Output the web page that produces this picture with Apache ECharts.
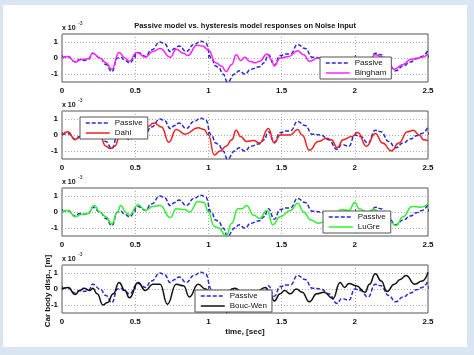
<!DOCTYPE html>
<html><head><meta charset="utf-8">
<script src="https://cdn.jsdelivr.net/npm/echarts@6/dist/echarts.min.js"></script>
<style>html,body{margin:0;padding:0;background:#d9e6f2;} #c{width:474px;height:355px;}</style>
</head><body><div id="c"></div>
<script>
// time [sec], displacement [x 1e-3 m]
const xTickLabels = ['0','0.5','1','1.5','2','2.5'];
const yTickLabels = ['-1','0','1'];
const panelSeries = ['Bingham','Dahl','LuGre','Bouc-Wen'];

const passive = [[0,0],[0.04,0.1],[0.09,-0.25],[0.12,-0.1],[0.15,-0.15],[0.18,-0.1],[0.21,0.3],[0.26,0.0],[0.30,-0.4],[0.34,-0.85],
 [0.38,0.0],[0.40,0.05],[0.43,-0.15],[0.46,-0.3],[0.52,0.35],[0.57,0.1],[0.61,0.5],[0.67,1.0],[0.70,0.9],[0.74,0.4],
 [0.77,0.6],[0.80,0.75],[0.85,0.4],[0.90,0.85],[0.95,1.05],[0.98,0.95],[1.02,0.0],[1.05,-0.5],[1.07,-0.6],[1.10,-1.0],
 [1.13,-1.5],[1.18,-1.0],[1.21,-0.8],[1.25,-1.0],[1.29,-0.7],[1.35,-0.55],[1.38,-0.3],[1.41,0.2],[1.45,-0.45],[1.49,0.15],
 [1.53,0.25],[1.56,0.25],[1.61,0.85],[1.66,0.6],[1.71,0.05],[1.77,0.0],[1.82,-0.3],[1.88,-0.9],[1.91,-0.6],[1.96,-0.7],
 [2.00,0.0],[2.04,-0.1],[2.09,-0.5],[2.14,0.3],[2.18,0.2],[2.23,-0.4],[2.28,-0.8],[2.33,-0.5],[2.38,-0.25],[2.42,-0.05],
 [2.46,0.1],[2.50,0.5]];

const bingham = [[0,0],[0.04,0.1],[0.09,-0.25],[0.13,-0.1],[0.18,-0.05],[0.21,0.3],[0.26,0.0],[0.30,-0.3],[0.34,-0.7],[0.39,0.35],
 [0.43,0.0],[0.46,-0.2],[0.51,0.35],[0.57,0.05],[0.62,0.4],[0.67,0.6],[0.74,0.05],[0.78,0.55],[0.83,0.3],[0.86,0.15],
 [0.92,0.8],[0.96,0.75],[1.00,0.5],[1.05,-0.3],[1.09,-0.5],[1.12,-0.85],[1.16,-0.4],[1.19,0.2],[1.22,-0.15],[1.25,0.05],
 [1.28,-0.2],[1.32,-0.3],[1.35,-0.2],[1.40,0.25],[1.43,-0.1],[1.45,-0.5],[1.49,0.0],[1.55,0.1],[1.61,0.45],[1.65,0.2],
 [1.69,-0.2],[1.75,0.0],[1.80,-0.2],[1.88,-0.6],[1.92,-0.4],[1.97,-0.5],[2.00,0.05],[2.04,-0.1],[2.09,-0.4],[2.14,0.2],
 [2.18,0.1],[2.22,-0.2],[2.27,-0.7],[2.33,-0.4],[2.38,-0.1],[2.43,0.0],[2.46,0.05],[2.50,0.25]];

const dahl = [[0,0],[0.04,0.2],[0.09,-0.3],[0.12,-0.15],[0.15,-0.1],[0.18,-0.05],[0.21,0.3],[0.26,-0.1],[0.30,-0.7],[0.33,-0.85],
 [0.36,-0.7],[0.40,0.1],[0.44,-0.1],[0.47,-0.2],[0.52,0.3],[0.54,0.4],[0.58,0.5],[0.63,0.75],[0.68,0.5],[0.73,-0.45],
 [0.78,0.35],[0.84,0.05],[0.93,0.45],[0.97,0.35],[1.00,0.0],[1.04,-1.25],[1.08,-1.0],[1.12,-0.7],[1.16,-0.3],[1.19,0.3],
 [1.22,-0.1],[1.26,-0.4],[1.31,-0.35],[1.35,-0.5],[1.41,0.4],[1.45,-0.5],[1.49,0.0],[1.56,0.0],[1.61,0.35],[1.64,0.0],
 [1.69,-0.95],[1.75,-0.4],[1.81,-0.2],[1.84,-0.3],[1.88,-0.8],[1.92,-0.3],[1.98,-0.1],[2.02,0.15],[2.08,-0.7],[2.14,0.1],
 [2.19,-0.5],[2.25,-1.0],[2.30,-0.5],[2.36,0.2],[2.40,0.3],[2.44,0.0],[2.47,-0.3],[2.50,-0.35]];

const lugre = [[0,0],[0.04,0.1],[0.09,-0.3],[0.13,-0.15],[0.18,-0.1],[0.22,0.4],[0.26,0.0],[0.30,-0.3],[0.34,-0.75],[0.38,0.0],
 [0.40,0.4],[0.44,-0.05],[0.46,-0.2],[0.52,0.45],[0.57,0.1],[0.62,0.35],[0.67,0.4],[0.74,-0.35],[0.78,0.2],[0.84,0.15],
 [0.87,0.0],[0.93,0.65],[0.97,0.6],[1.00,0.0],[1.04,-0.9],[1.07,-1.0],[1.12,-1.5],[1.16,-0.7],[1.20,0.2],[1.23,0.2],
 [1.26,0.4],[1.31,-0.2],[1.35,-0.4],[1.40,0.1],[1.44,-0.8],[1.49,-0.3],[1.56,0.1],[1.61,0.55],[1.65,0.0],[1.70,-0.5],
 [1.75,-0.7],[1.80,-0.6],[1.86,-0.2],[1.91,0.15],[1.96,0.1],[2.00,0.6],[2.03,0.2],[2.08,0.0],[2.13,0.15],[2.18,-0.1],
 [2.23,-0.5],[2.28,-0.85],[2.33,-0.3],[2.39,0.35],[2.45,0.3],[2.50,0.5]];

const boucwen = [[0,0],[0.04,0.1],[0.09,-0.35],[0.12,-0.1],[0.15,0.05],[0.19,-0.1],[0.21,0.05],[0.24,-0.3],[0.28,-1.0],[0.31,-0.85],
 [0.35,-0.3],[0.39,0.4],[0.43,-0.1],[0.46,-0.55],[0.52,0.4],[0.57,-0.1],[0.62,0.3],[0.67,0.3],[0.72,-0.95],[0.78,0.3],
 [0.83,0.2],[0.87,-0.5],[0.93,0.3],[0.98,0.0],[1.03,-0.5],[1.10,-0.3],[1.18,0.05],[1.25,-0.4],[1.32,-0.2],[1.39,0.1],
 [1.42,-0.2],[1.45,-0.75],[1.49,-0.3],[1.52,-0.1],[1.56,-0.3],[1.60,0.0],[1.64,-0.2],[1.69,-0.8],[1.74,-0.3],[1.79,-0.2],
 [1.85,-0.6],[1.90,0.4],[1.93,0.1],[1.96,0.35],[2.01,0.2],[2.07,-0.2],[2.10,0.3],[2.14,0.95],[2.18,0.5],[2.22,-0.15],
 [2.27,0.3],[2.31,0.6],[2.35,0.85],[2.41,0.3],[2.46,0.5],[2.50,1.05]];

const hystData = [bingham, dahl, lugre, boucwen];
const hystColors = ['#ff22ff','#ee2222','#33ee33','#111111'];

const tops = [34,111,188,265];
const H = 48, L = 62, W = 366;
const legendPos = [[320,57],[80,117],[323,211],[195,290]];
const FONT = '"Liberation Sans", Arial, sans-serif';

const grids=[], xAxes=[], yAxes=[], series=[], legends=[], graphics=[];
graphics.push({type:'rect', shape:{x:3,y:5,width:464,height:342}, style:{fill:'#fff'}, z:-10, silent:true});
graphics.push({type:'text', style:{text:'Passive model vs. hysteresis model responses on Noise Input', x:245, y:26,
  textAlign:'center', textVerticalAlign:'middle', align:'center', verticalAlign:'middle',
  font:'bold 7.5px '+FONT, fill:'#111'}});
graphics.push({type:'text', style:{text:'time, [sec]', x:245, y:332, textAlign:'center', textVerticalAlign:'middle',
  align:'center', verticalAlign:'middle', font:'bold 8px '+FONT, fill:'#111'}});
graphics.push({type:'text', x:48, y:291, rotation:Math.PI/2, style:{text:'Car body disp., [m]', x:0, y:0, textAlign:'center', textVerticalAlign:'middle',
  align:'center', verticalAlign:'middle', font:'bold 8px '+FONT, fill:'#111'}});

for (let i=0;i<4;i++){
  grids.push({left:L, top:tops[i], width:W, height:H, show:true, borderColor:'#555', borderWidth:1, backgroundColor:'#fff'});
  xAxes.push({type:'value', gridIndex:i, min:0, max:2.5, interval:0.5,
    axisLine:{show:false}, axisTick:{show:true, inside:true, length:3, lineStyle:{color:'#555'}},
    axisLabel:{margin:5, fontSize:8, fontWeight:'bold', fontFamily:FONT, color:'#111',
      formatter:v=>{const s=xTickLabels.find(t=>Math.abs(parseFloat(t)-v)<1e-6); return s||'';}},
    splitLine:{show:true, lineStyle:{color:'#aaa', type:[1,2], width:1}}});
  yAxes.push({type:'value', gridIndex:i, min:-1.5, max:1.5, interval:0.5,
    axisLine:{show:false}, axisTick:{show:false},
    axisLabel:{margin:4, fontSize:8, fontWeight:'bold', fontFamily:FONT, color:'#111',
      formatter:v=>{const s=yTickLabels.find(t=>Math.abs(parseFloat(t)-v)<1e-6); return s||'';}},
    splitLine:{show:true, lineStyle:{color:['rgba(0,0,0,0)','#aaa'], type:[1,2], width:1}}});
  series.push({name:'Passive', type:'line', xAxisIndex:i, yAxisIndex:i, data:passive, symbol:'none', showSymbol:false,
    smooth:0.5, smoothMonotone:'x', lineStyle:{color:'#2a2ad0', width:1.5, type:[4,2]}, itemStyle:{color:'#2a2ad0'}, z:2});
  series.push({name:panelSeries[i], type:'line', xAxisIndex:i, yAxisIndex:i, data:hystData[i], symbol:'none', showSymbol:false,
    smooth:0.5, smoothMonotone:'x', lineStyle:{color:hystColors[i], width:1.5}, itemStyle:{color:hystColors[i]}, z:3});
  legends.push({left:legendPos[i][0], top:legendPos[i][1], orient:'vertical', data:['Passive', panelSeries[i]],
    itemWidth:24, itemHeight:8, itemGap:2, padding:[2,5,2,5], backgroundColor:'#fff', borderColor:'#555', borderWidth:1,
    itemStyle:{opacity:0}, lineStyle:{width:1.5},
    textStyle:{fontSize:8, fontFamily:FONT, color:'#111'}, selectedMode:false, z:10});
  graphics.push({type:'text', style:{text:'x 10', x:L, y:tops[i]-6, textVerticalAlign:'middle', verticalAlign:'middle',
    font:'bold 7px '+FONT, fill:'#111'}});
  graphics.push({type:'text', style:{text:'-3', x:L+16, y:tops[i]-10, textVerticalAlign:'middle', verticalAlign:'middle',
    font:'5px '+FONT, fill:'#111'}});
}

const chart = echarts.init(document.getElementById('c'), null, {renderer:'canvas'});
chart.setOption({animation:false, backgroundColor:'#d9e6f2', grid:grids, xAxis:xAxes, yAxis:yAxes, series:series, legend:legends, graphic:graphics});
</script>
</body></html>
